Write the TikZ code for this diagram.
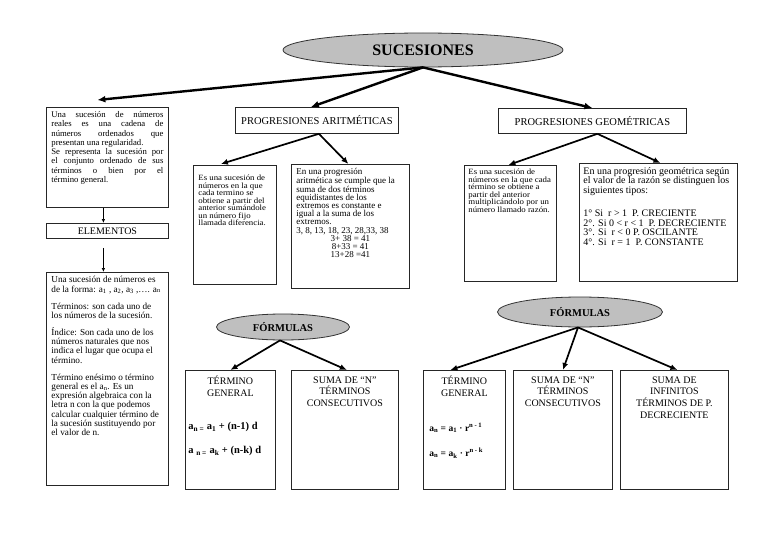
\documentclass[tikz,border=0pt]{standalone}
\usepackage{fontspec}
\setmainfont{Liberation Serif}
\newfontfamily\anchafont[FakeStretch=1.1]{Liberation Serif}
\usetikzlibrary{arrows.meta}
\usetikzlibrary{shapes.geometric}

\newcommand{\bloque}[3]{\parbox[t][#2][t]{#1}{#3}}

\tikzset{
  caja/.style={draw=black!85, fill=white, line width=0.8pt, inner xsep=5pt, inner ysep=4pt, anchor=north west},
  formcaja/.style={caja, inner xsep=3pt, font=\fontsize{10}{11.7}\selectfont},
  titulo/.style={draw=black!85, fill=white, line width=0.8pt, inner sep=0pt, anchor=north west},
  elipse/.style={ellipse, draw=black!80, fill=black!25, line width=0.8pt, inner sep=0pt},
  flecha/.style={-{Latex[length=8pt,width=7pt]}, line width=2.4pt},
  flechita/.style={-{Latex[length=7pt,width=6pt]}, line width=1.7pt},
  flechafina/.style={-{Latex[length=4pt,width=3.5pt]}, line width=0.7pt},
}

\begin{document}
\begin{tikzpicture}[x=1pt,y=-1pt]
\useasboundingbox (0,0) rectangle (768,543);
\fill[white] (0,0) rectangle (768,543);

\node[elipse, minimum width=280pt, minimum height=34pt, font=\fontsize{16}{18}\selectfont\bfseries] (suc) at (423,50) {SUCESIONES};

\node[caja, font=\fontsize{8.7}{9.3}\selectfont] (def) at (46,107) {\bloque{112pt}{92pt}{Una sucesión de números\linebreak reales es una cadena de\linebreak números ordenados que\linebreak presentan una regularidad.\\ Se representa la sucesión por\linebreak el conjunto ordenado de sus\linebreak términos o bien por el\linebreak término general.}};
\node[titulo, minimum width=122pt, minimum height=15pt, font=\fontsize{10}{11}\selectfont] (elem) at (46,223) {ELEMENTOS};
\node[caja, font=\fontsize{9.2}{9.2}\selectfont] (elems) at (46,272) {\bloque{112pt}{205pt}{\raggedright Una sucesión de números es\\ de la forma: a\textsubscript{1} , a\textsubscript{2}, a\textsubscript{3} ,…. a\textsubscript{n}\\[8pt] Términos: son cada uno de\\ los números de la sucesión.\\[8pt] Índice: Son cada uno de los\\ números naturales que nos\\ indica el lugar que ocupa el\\ término.\\[8pt] Término enésimo o término\\ general es el a\textsubscript{n}. Es un\\ expresión algebraica con la\\ letra n con la que podemos\\ calcular cualquier término de\\ la sucesión sustituyendo por\\ el valor de n.}};

\node[titulo, minimum width=163pt, minimum height=26pt, font=\fontsize{10.5}{12}\selectfont] (pa) at (235,107) {PROGRESIONES ARITMÉTICAS};
\node[caja, font=\anchafont\fontsize{8}{7.5}\selectfont] (ar1) at (193,165) {\bloque{73pt}{111pt}{\raggedright\vspace*{6pt}Es una sucesión de\\ números en la que\\ cada termino se\\ obtiene a partir del\\ anterior sumándole\\ un número fijo\\ llamada diferencia.}};
\node[caja, font=\fontsize{9}{8.2}\selectfont] (ar2) at (291,164) {\bloque{108pt}{116pt}{\raggedright En una progresión\\ aritmética se cumple que la\\ suma de dos términos\\ equidistantes de los\\ extremos es constante e\\ igual a la suma de los\\ extremos.\\ 3, 8, 13, 18, 23, 28,33, 38\par\centering 3+ 38 = 41\\ 8+33 = 41\\ 13+28 =41}};

\node[titulo, minimum width=188pt, minimum height=25pt, font=\fontsize{10.5}{12}\selectfont] (pg) at (498,108) {PROGRESIONES GEOMÉTRICAS};
\node[caja, inner xsep=4pt, font=\anchafont\fontsize{8}{7.5}\selectfont] (ge1) at (464,165) {\bloque{84pt}{108pt}{\raggedright Es una sucesión de\\ números en la que cada\\ término se obtiene a\\ partir del anterior\\ multiplicándolo por un\\ número llamado razón.}};
\node[caja, inner xsep=4pt, font=\fontsize{10}{9.5}\selectfont] (ge2) at (579,163) {\bloque{150pt}{110pt}{\raggedright En una progresión geométrica según\\ el valor de la razón se distinguen los\\ siguientes tipos:\\[14pt] 1° Si~ r > 1~ P. CRECIENTE\\ 2°. Si 0 < r < 1~ P. DECRECIENTE\\ 3°. Si~ r < 0 P. OSCILANTE\\ 4°. Si~ r = 1~ P. CONSTANTE}};

% formulas
\node[elipse, minimum width=133pt, minimum height=26pt, font=\fontsize{10.5}{12}\selectfont\bfseries] (for1) at (283,327) {FÓRMULAS};
\node[formcaja] (tg1) at (185,370) {\bloque{84pt}{111pt}{\centering\vspace*{2pt}TÉRMINO\\ GENERAL\par\vspace{23pt}\raggedright\fontsize{10.5}{10}\selectfont\bfseries a\textsubscript{n =} a\textsubscript{1} + (n-1) d\par\vspace{14pt}a \textsubscript{n =} a\textsubscript{k} + (n-k) d}};
\node[formcaja] (sn1) at (291,370) {\bloque{101pt}{111pt}{\centering\vspace*{2pt}SUMA DE “N”\\ TÉRMINOS\\ CONSECUTIVOS}};

\node[elipse, minimum width=165pt, minimum height=30pt, font=\fontsize{10.5}{12}\selectfont\bfseries] (for2) at (580,312) {FÓRMULAS};
\node[formcaja] (tg2) at (423,370) {\bloque{76pt}{111pt}{\centering\vspace*{2pt}TÉRMINO\\ GENERAL\par\vspace{25pt}\raggedright\hspace*{3pt}\fontsize{9.5}{10}\selectfont\bfseries a\textsubscript{n} = a\textsubscript{1} · r\textsuperscript{n - 1}\par\vspace{15pt}\hspace*{3pt}a\textsubscript{n} = a\textsubscript{k} · r\textsuperscript{n - k}}};
\node[formcaja] (sn2) at (513,370) {\bloque{93pt}{111pt}{\centering\vspace*{2pt}SUMA DE “N”\\ TÉRMINOS\\ CONSECUTIVOS}};
\node[formcaja] (inf) at (620,370) {\bloque{102pt}{111pt}{\centering\vspace*{2pt}SUMA DE\\ INFINITOS\\ TÉRMINOS DE P.\\ DECRECIENTE}};

\draw[flecha] (suc.south) -- ([xshift=-10pt,yshift=7pt]def.north);
\draw[flecha] (suc.south) -- ([xshift=-6pt]pa.north);
\draw[flecha] (suc.south) -- (pg.north);

\draw[flechita] ([xshift=2pt]pa.south) -- ([xshift=-14pt,yshift=1pt]ar1.north);
\draw[flechita] ([xshift=2pt]pa.south) -- ([xshift=-2pt]ar2.north);
\draw[flechita] ([xshift=5pt]pg.south) -- ([xshift=-2pt]ge1.north);
\draw[flechita] ([xshift=5pt]pg.south) -- ([xshift=2pt]ge2.north);

\draw[flechafina] ([xshift=-4pt]def.south) -- ([xshift=-4pt]elem.north);
\draw[flechafina] ([xshift=-4pt,yshift=-9pt]elem.south) -- ([xshift=-4pt]elems.north);

\draw[flechita] ([xshift=-3pt]for1.south) -- (tg1.north);
\draw[flechita] ([xshift=-3pt]for1.south) -- ([xshift=2pt]sn1.north);
\draw[flechita] ([xshift=-2pt]for2.south) -- ([xshift=-14pt]tg2.north);
\draw[flechita] ([xshift=-2pt]for2.south) -- (sn2.north);
\draw[flechita] ([xshift=-2pt]for2.south) -- ([xshift=3pt]inf.north);

\end{tikzpicture}
\end{document}
